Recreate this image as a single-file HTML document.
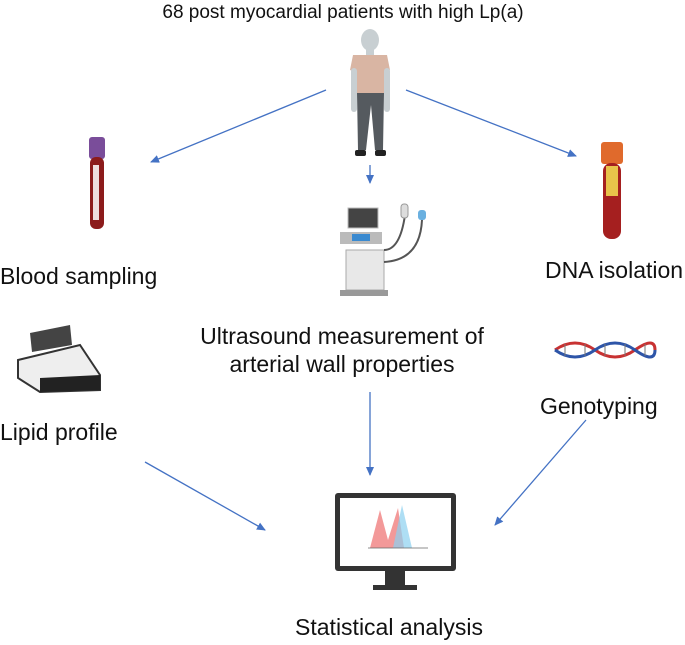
<!DOCTYPE html>
<html><head><meta charset="utf-8"><style>
body{margin:0;background:#fff;}
svg text{font-family:"Liberation Sans",sans-serif;fill:#111;font-size:23px;}
</style></head><body>
<svg width="685" height="640" viewBox="0 0 685 640" xmlns="http://www.w3.org/2000/svg">
<defs><marker id="a" markerWidth="10" markerHeight="10" refX="8" refY="5" orient="auto" markerUnits="userSpaceOnUse"><path d="M0,1 L9,5 L0,9 z" fill="#4472c4"/></marker></defs>
<text x="343" y="18" text-anchor="middle" style="font-size:19px">68 post myocardial patients with high Lp(a)</text>
<!-- person -->
<ellipse cx="370" cy="40" rx="9" ry="11" fill="#c8cfd2"/>
<rect x="366" y="49" width="8" height="6" fill="#c8cfd2"/>
<path d="M353,55 L387,55 L390,70 L386,72 L385,93 L356,93 L355,72 L350,70 Z" fill="#d9b5a3"/>
<rect x="351" y="68" width="6" height="44" rx="3" fill="#c8cfd2"/>
<rect x="384" y="68" width="6" height="44" rx="3" fill="#c8cfd2"/>
<path d="M357,93 L384,93 L383,150 L375,150 L371,105 L366,150 L358,150 Z" fill="#555a5f"/>
<rect x="355" y="150" width="11" height="6" rx="2" fill="#222"/>
<rect x="375" y="150" width="11" height="6" rx="2" fill="#222"/>
<!-- arrows -->
<g stroke="#4472c4" stroke-width="1.3" fill="none" marker-end="url(#a)">
<line x1="326" y1="90" x2="151" y2="162"/>
<line x1="406" y1="90" x2="576" y2="156"/>
<line x1="370" y1="165" x2="370" y2="183"/>
<line x1="370" y1="392" x2="370" y2="475"/>
<line x1="145" y1="462" x2="265" y2="530"/>
<line x1="586" y1="420" x2="495" y2="525"/>
</g>
<!-- blood tube -->
<rect x="89" y="137" width="16" height="22" rx="3" fill="#7a4d9a"/>
<rect x="90" y="157" width="14" height="72" rx="6" fill="#8c1b1b"/>
<rect x="93" y="165" width="6" height="55" fill="#fff" opacity=".85"/>
<text x="0" y="284">Blood sampling</text>
<!-- ultrasound -->
<rect x="348" y="208" width="30" height="20" fill="#444" stroke="#bbb"/>
<rect x="340" y="232" width="42" height="12" fill="#bbb"/>
<rect x="352" y="234" width="18" height="7" fill="#3a8ad0"/>
<rect x="346" y="250" width="38" height="40" fill="#e8e8e8" stroke="#aaa"/>
<rect x="340" y="290" width="48" height="6" fill="#999"/>
<path d="M384,250 Q400,250 405,215 M384,262 Q420,260 422,220" stroke="#555" stroke-width="2" fill="none"/>
<rect x="401" y="204" width="7" height="14" rx="3" fill="#ddd" stroke="#999"/>
<rect x="418" y="210" width="8" height="10" rx="3" fill="#6ab0e0"/>
<text x="342" y="344" text-anchor="middle">Ultrasound measurement of</text>
<text x="342" y="372" text-anchor="middle">arterial wall properties</text>
<!-- DNA tube -->
<rect x="601" y="142" width="22" height="22" rx="3" fill="#e06a2c"/>
<rect x="603" y="163" width="18" height="76" rx="8" fill="#a51f1f"/>
<rect x="606" y="166" width="12" height="30" fill="#e8c24a"/>
<text x="545" y="278">DNA isolation</text>
<!-- lipid device -->
<path d="M30,333 L70,325 L72,345 L32,352 Z" fill="#444"/>
<path d="M18,360 L80,345 L100,375 L100,390 L40,392 L18,378 Z" fill="#eee" stroke="#333" stroke-width="2"/>
<path d="M40,392 L100,390 L100,375 L40,378 Z" fill="#222"/>
<text x="0" y="440">Lipid profile</text>
<!-- DNA helix -->
<path d="M555,350 Q575,336 595,350 T635,350 T655,350" stroke="#c83232" stroke-width="3" fill="none"/>
<path d="M555,350 Q575,364 595,350 T635,350 T655,350" stroke="#2e55a8" stroke-width="3" fill="none"/>
<g stroke="#777" stroke-width="1"><line x1="565" y1="344" x2="565" y2="356"/><line x1="585" y1="344" x2="585" y2="356"/><line x1="605" y1="344" x2="605" y2="356"/><line x1="625" y1="344" x2="625" y2="356"/><line x1="645" y1="344" x2="645" y2="356"/></g>
<text x="540" y="414">Genotyping</text>
<!-- monitor -->
<rect x="335" y="493" width="121" height="78" rx="3" fill="#333"/>
<rect x="340" y="498" width="111" height="68" fill="#fff"/>
<path d="M370,548 L380,510 L388,540 L398,508 L404,548 Z" fill="#f08080" opacity=".8"/>
<path d="M393,548 L402,505 L412,548 Z" fill="#8cd0f0" opacity=".7"/>
<line x1="368" y1="548" x2="428" y2="548" stroke="#666" stroke-width=".8"/>
<rect x="385" y="571" width="20" height="14" fill="#333"/>
<rect x="373" y="585" width="44" height="5" fill="#333"/>
<text x="389" y="635" text-anchor="middle">Statistical analysis</text>
</svg>
</body></html>
